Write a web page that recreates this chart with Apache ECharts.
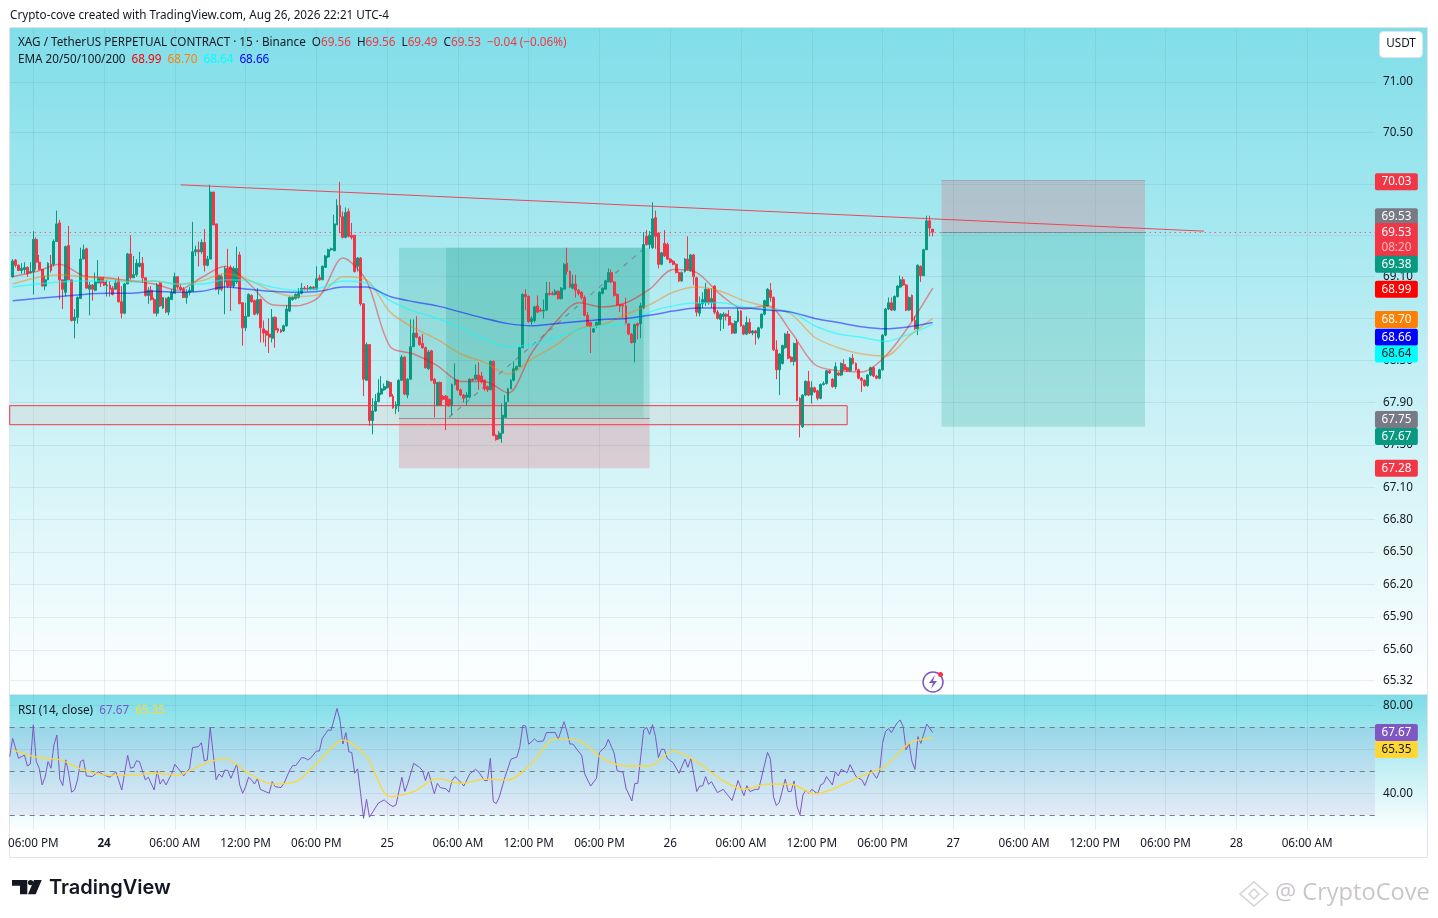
<!DOCTYPE html>
<html><head><meta charset="utf-8"><style>html,body{margin:0;padding:0;background:#fff}#c{width:1438px;height:918px}</style>
<script src="https://cdn.jsdelivr.net/npm/echarts@6/dist/echarts.min.js"></script></head><body><div id="c"></div>
<script>
const FONT='"Noto Sans"';
const FS=11.7;
const tickLabels=["06:00 PM","24","06:00 AM","12:00 PM","06:00 PM","25","06:00 AM","12:00 PM","06:00 PM","26","06:00 AM","12:00 PM","06:00 PM","27","06:00 AM","12:00 PM","06:00 PM","28","06:00 AM"];
const priceTicks=[71,70.5,70,69.5,69.1,68.7,68.3,67.9,67.5,67.1,66.8,66.5,66.2,65.9,65.6,65.32];
const rsiTicks=[80,60,40];
const rsiDashed=[70,50,30];
// [open, close, low, high], one row per 15-minute bar
const ohlc=[
[69.10,69.25,69.09,69.27],[69.26,69.21,69.19,69.27],[69.21,69.16,69.16,69.22],[69.16,69.18,69.13,69.23],[69.17,69.19,69.13,69.24],[69.19,69.13,69.10,69.20],[69.14,69.15,69.13,69.24],[69.15,69.46,68.93,69.54],[69.46,69.24,69.17,69.48],[69.24,69.17,69.17,69.31],
[69.17,69.01,69.01,69.17],[69.01,69.07,68.97,69.11],[69.07,69.23,69.07,69.24],[69.22,69.16,69.14,69.31],[69.22,69.44,69.20,69.46],[69.44,69.61,69.44,69.74],[69.62,69.07,68.88,69.65],[69.07,68.98,68.79,69.07],[68.95,69.39,68.91,69.40],[69.40,69.07,69.07,69.59],
[69.07,68.68,68.67,69.07],[68.68,68.71,68.51,68.79],[68.71,68.90,68.65,68.91],[68.89,69.27,68.89,69.38],[69.27,69.36,69.27,69.41],[69.37,68.99,68.99,69.38],[68.98,69.02,68.73,69.05],[69.02,68.98,68.87,69.03],[68.97,69.05,68.96,69.14],[69.04,69.09,69.04,69.26],
[69.09,69.04,69.00,69.10],[69.05,69.02,69.01,69.10],[69.01,69.02,68.91,69.07],[69.02,68.98,68.91,69.06],[68.99,68.93,68.92,69.01],[68.98,69.04,68.98,69.07],[69.06,68.86,68.85,69.10],[68.86,68.75,68.70,69.01],[68.75,69.03,68.74,69.04],[69.03,69.32,69.03,69.33],
[69.32,69.09,69.07,69.50],[69.09,69.12,69.09,69.30],[69.12,69.23,69.10,69.27],[69.20,69.23,69.19,69.34],[69.23,69.09,69.04,69.29],[69.09,68.92,68.91,69.09],[68.92,68.97,68.84,69.00],[68.97,68.88,68.87,69.01],[68.88,68.75,68.75,68.90],[68.75,69.02,68.72,69.04],
[69.04,68.82,68.81,69.05],[68.80,68.90,68.79,68.90],[68.89,68.76,68.75,68.90],[68.76,68.90,68.73,68.91],[68.88,68.95,68.88,68.98],[68.94,69.10,68.94,69.14],[69.10,69.00,68.98,69.10],[69.00,68.98,68.96,69.03],[68.98,68.90,68.90,69.00],[68.90,68.95,68.84,68.98],
[68.95,68.97,68.92,69.00],[68.96,69.34,68.96,69.63],[69.34,69.36,69.30,69.40],[69.36,69.34,69.20,69.44],[69.34,69.43,69.32,69.46],[69.43,69.21,69.15,69.56],[69.21,69.27,69.20,69.30],[69.27,69.92,69.27,69.99],[69.92,69.60,69.60,69.92],[69.61,68.98,68.97,69.61],
[68.98,69.11,68.93,69.12],[69.10,68.98,68.96,69.12],[69.05,69.18,68.74,69.20],[69.18,69.01,68.99,69.37],[69.19,69.01,68.77,69.21],[69.01,69.18,68.99,69.20],[69.05,69.18,69.03,69.39],[69.31,68.84,68.84,69.34],[68.85,68.61,68.44,68.85],[68.61,68.72,68.58,68.85],
[68.72,68.93,68.72,68.94],[68.92,68.86,68.85,68.93],[68.87,68.74,68.73,68.88],[68.75,68.88,68.73,68.99],[68.88,68.61,68.47,68.89],[68.60,68.56,68.47,68.68],[68.58,68.54,68.43,68.59],[68.55,68.52,68.37,68.70],[68.51,68.71,68.47,68.79],[68.71,68.59,68.42,68.72],
[68.60,68.58,68.56,68.61],[68.59,68.57,68.56,68.60],[68.58,68.63,68.57,68.64],[68.63,68.79,68.62,68.83],[68.77,68.90,68.76,68.91],[68.88,68.90,68.87,68.91],[68.89,68.93,68.88,68.94],[68.90,68.94,68.89,68.99],[68.94,68.99,68.93,69.04],[68.99,68.98,68.97,69.01],
[68.99,68.98,68.96,69.02],[68.98,69.00,68.97,69.01],[69.00,68.98,68.97,69.01],[68.98,69.08,68.97,69.20],[69.09,69.07,69.06,69.12],[69.07,69.20,69.07,69.21],[69.19,69.30,69.19,69.31],[69.29,69.36,69.28,69.37],[69.36,69.37,69.35,69.38],[69.35,69.61,69.35,69.70],
[69.60,69.79,69.60,69.85],[69.79,69.68,69.52,70.02],[69.68,69.48,69.47,69.73],[69.48,69.72,69.47,69.77],[69.73,69.49,69.48,69.76],[69.50,69.48,69.46,69.62],[69.50,69.15,69.14,69.50],[69.20,69.28,69.15,69.29],[69.28,68.84,68.82,69.29],[68.84,68.12,67.96,68.84],
[68.11,68.45,68.11,68.47],[68.45,67.73,67.68,68.45],[67.73,67.82,67.60,67.94],[67.82,67.91,67.81,67.98],[67.91,67.99,67.90,68.12],[67.98,68.03,67.97,68.15],[68.02,68.05,68.01,68.08],[68.04,68.10,68.03,68.11],[68.09,67.96,67.95,68.10],[67.96,67.85,67.84,67.98],
[67.84,67.88,67.79,67.91],[67.87,68.11,67.81,68.12],[68.11,68.33,68.11,68.35],[68.33,67.98,67.97,68.34],[67.97,68.12,67.94,68.13],[68.12,68.43,68.12,68.69],[68.43,68.56,68.43,68.69],[68.56,68.52,68.51,68.72],[68.52,68.45,68.44,68.53],[68.46,68.42,68.41,68.55],
[68.42,68.23,68.22,68.43],[68.22,68.38,68.21,68.40],[68.39,68.11,68.10,68.40],[68.12,68.08,67.76,68.13],[67.87,68.09,67.87,68.09],[68.09,67.87,67.87,68.10],[67.96,67.93,67.92,67.97],[67.96,67.87,67.64,67.97],[67.93,67.87,67.86,67.94],[67.87,68.07,67.78,68.08],
[68.07,68.12,68.06,68.27],[68.11,68.02,68.01,68.12],[68.02,67.97,67.96,68.03],[67.97,67.94,67.90,67.98],[67.95,67.97,67.87,68.00],[67.95,68.12,67.94,68.13],[68.12,68.11,68.10,68.13],[68.12,68.16,68.11,68.26],[68.16,68.11,68.02,68.28],[68.15,68.10,68.08,68.19],
[68.11,68.03,68.01,68.12],[68.05,68.02,68.00,68.06],[68.02,68.29,68.02,68.30],[68.29,67.59,67.58,68.30],[67.59,67.55,67.54,67.60],[67.56,67.61,67.55,67.63],[67.61,67.78,67.52,67.89],[67.76,67.90,67.76,67.97],[67.91,68.03,67.91,68.04],[68.03,68.11,68.03,68.12],
[68.11,68.22,68.10,68.29],[68.21,68.24,68.20,68.25],[68.24,68.42,68.24,68.43],[68.42,68.93,68.42,68.94],[68.93,68.91,68.78,68.98],[68.91,68.67,68.66,68.92],[68.67,68.70,68.64,68.72],[68.68,68.81,68.66,68.82],[68.82,68.76,68.75,68.92],[68.78,68.77,68.76,68.80],
[68.77,68.78,68.70,68.88],[68.78,68.94,68.77,69.05],[68.94,68.93,68.92,69.05],[68.94,68.93,68.92,68.96],[68.93,68.96,68.92,68.98],[68.96,68.89,68.88,68.97],[68.89,68.99,68.88,69.00],[68.98,69.22,68.98,69.23],[69.23,69.15,69.12,69.38],[69.15,69.00,68.99,69.16],
[68.99,69.03,68.98,69.12],[69.03,68.97,68.90,69.12],[68.97,68.94,68.92,68.98],[68.95,68.90,68.88,68.96],[68.90,68.73,68.72,68.92],[68.73,68.63,68.62,68.76],[68.66,68.62,68.37,68.67],[68.57,68.60,68.56,68.61],[68.63,68.66,68.61,68.67],[68.64,68.95,68.64,68.96],
[68.94,68.99,68.93,69.00],[68.98,69.06,68.98,69.07],[69.05,69.14,69.05,69.18],[69.14,69.05,69.04,69.17],[69.05,68.92,68.91,69.06],[68.93,68.83,68.82,68.94],[68.83,68.82,68.76,68.84],[68.83,68.82,68.70,68.84],[68.82,68.65,68.64,68.90],[68.65,68.55,68.54,68.66],
[68.55,68.47,68.46,68.56],[68.47,68.64,68.28,68.65],[68.65,68.63,68.50,68.66],[68.65,68.82,68.51,68.85],[68.80,69.41,68.79,69.53],[69.49,69.41,69.40,69.55],[69.41,69.50,69.37,69.54],[69.38,69.66,69.37,69.82],[69.67,69.49,69.37,69.74],[69.52,69.22,69.18,69.53],
[69.22,69.33,69.21,69.34],[69.42,69.30,69.29,69.55],[69.41,69.27,69.26,69.43],[69.27,69.24,69.23,69.28],[69.25,69.22,69.21,69.26],[69.22,69.14,69.13,69.23],[69.14,69.06,69.05,69.15],[69.06,69.14,69.05,69.15],[69.15,69.27,69.14,69.28],[69.27,69.17,69.16,69.49],
[69.16,69.31,69.15,69.32],[69.31,69.10,69.02,69.32],[69.09,68.76,68.72,69.10],[68.75,68.84,68.72,68.91],[68.84,68.88,68.80,68.95],[68.85,68.98,68.82,69.04],[68.98,68.85,68.83,68.99],[68.85,68.89,68.80,68.99],[69.01,68.76,68.74,69.02],[68.76,68.70,68.69,68.78],
[68.69,68.74,68.58,68.75],[68.72,68.74,68.60,68.76],[68.74,68.72,68.68,68.75],[68.72,68.64,68.63,68.78],[68.65,68.56,68.55,68.66],[68.56,68.67,68.55,68.68],[68.67,68.77,68.66,68.80],[68.77,68.63,68.62,68.78],[68.63,68.55,68.54,68.64],[68.55,68.66,68.54,68.72],
[68.66,68.56,68.55,68.70],[68.56,68.58,68.54,68.59],[68.58,68.56,68.45,68.59],[68.52,68.61,68.50,68.62],[68.61,68.74,68.60,68.75],[68.74,68.87,68.73,68.88],[68.82,68.98,68.81,68.99],[68.97,68.90,68.86,69.04],[68.90,68.40,68.39,68.91],[68.40,68.21,68.12,68.49],
[68.21,68.36,67.97,68.37],[68.27,68.44,68.26,68.45],[68.42,68.55,68.41,68.56],[68.55,68.32,68.31,68.58],[68.33,68.29,68.28,68.34],[68.29,68.46,68.25,68.47],[68.47,67.92,67.91,68.50],[67.94,67.69,67.57,67.95],[67.67,67.97,67.66,67.98],[67.97,68.10,67.96,68.11],
[68.10,67.97,67.96,68.20],[67.97,68.04,67.89,68.10],[68.04,68.00,67.99,68.05],[68.01,67.94,67.92,68.02],[67.94,68.07,67.93,68.08],[68.07,68.08,68.06,68.10],[68.08,68.20,68.07,68.21],[68.20,68.18,68.17,68.21],[68.12,68.05,68.04,68.13],[68.05,68.24,68.03,68.28],
[68.18,68.16,68.15,68.19],[68.16,68.27,68.15,68.28],[68.26,68.21,68.20,68.31],[68.23,68.20,68.19,68.24],[68.20,68.32,68.19,68.33],[68.32,68.27,68.26,68.36],[68.27,68.21,68.20,68.28],[68.21,68.13,68.12,68.22],[68.13,68.11,68.00,68.14],[68.11,68.06,68.05,68.12],
[68.06,68.16,68.05,68.17],[68.16,68.23,68.15,68.24],[68.23,68.15,68.14,68.24],[68.15,68.13,68.12,68.16],[68.13,68.21,68.12,68.22],[68.21,68.54,68.20,68.55],[68.54,68.79,68.53,68.80],[68.79,68.85,68.78,68.90],[68.85,68.78,68.77,68.90],[68.78,68.91,68.77,68.92],
[68.91,69.01,68.90,69.02],[69.00,69.07,68.99,69.11],[69.07,69.02,69.01,69.10],[69.02,68.78,68.77,69.03],[68.78,68.90,68.77,68.91],[68.92,68.68,68.67,68.93],[68.68,68.60,68.59,68.72],[68.60,69.21,68.54,69.22],[69.20,69.11,69.05,69.21],[69.11,69.36,69.11,69.37],
[69.36,69.64,69.36,69.69],[69.64,69.57,69.49,69.69],[69.56,69.53,69.49,69.56]
];
// moving averages read every 8 bars
const emaStep=8;
const ema20=[69.10,69.15,69.22,69.11,69.09,69.06,69.03,68.97,69.09,69.20,69.04,68.83,68.82,68.91,69.28,69.06,68.43,68.36,68.25,68.10,68.10,67.99,68.37,68.66,68.85,68.81,68.85,68.98,69.17,69.14,68.93,68.79,68.82,68.57,68.26,68.20,68.19,68.34,68.63,68.99];
const ema50=[69.03,69.09,69.12,69.10,69.08,69.06,69.06,69.03,69.06,69.13,69.07,68.96,68.91,68.93,69.10,69.07,68.76,68.61,68.50,68.36,68.28,68.17,68.31,68.44,68.60,68.64,68.74,68.83,68.95,69.00,68.96,68.87,68.81,68.74,68.52,68.42,68.36,68.34,68.53,68.70];
const ema100=[69.00,69.03,69.05,69.06,69.06,69.05,69.06,69.03,69.03,69.07,69.06,69.00,68.97,68.99,69.06,69.04,68.87,68.77,68.70,68.61,68.50,68.43,68.45,68.52,68.59,68.63,68.65,68.76,68.82,68.85,68.85,68.81,68.79,68.76,68.63,68.55,68.52,68.48,68.55,68.64];
const ema200=[68.87,68.89,68.91,68.93,68.94,68.94,68.96,68.95,68.96,69.00,68.98,68.96,68.95,68.96,69.00,69.00,68.91,68.86,68.82,68.76,68.70,68.65,68.63,68.65,68.67,68.69,68.70,68.73,68.77,68.80,68.80,68.80,68.78,68.76,68.70,68.66,68.62,68.60,68.62,68.66];
// RSI turning points: slot and value
const rsiSlots=[0,1,3,5,6,7,8,9,10,11,12,13,14,15,16,17,18,19,20,21,22,23,24,25,26,28,30,32,34,36,38,40,41,42,43,44,46,47,49,50,51,52,53,55,56,58,59,61,62,64,65,66,67,68,69,70,71,72,73,74,75,77,78,79,80,81,82,83,84,85,88,89,90,92,93,95,96,97,99,100,101,102,104,105,106,108,109,111,112,113,114,115,116,117,118,119,120,121,122,125,127,129,130,131,133,134,135,137,139,140,141,142,144,145,146,148,149,150,151,153,154,156,158,159,161,162,163,164,165,166,168,170,172,173,174,175,176,178,179,181,182,185,186,188,189,190,191,194,195,197,199,200,202,203,205,206,208,209,211,212,213,215,216,217,218,219,220,221,222,223,225,227,229,230,231,233,234,235,236,237,238,240,242,243,245,247,249,250,251,253,254,257,258,259,260,261,263,264,265,266,267,268,269,270,271,272,274,275,276,277,279,280,281,282,284,285,287,289,290,292,294,295,296,297,298,299,301,302,303,304,305,306,307,308,309,311,313];
const rsiVals=[56.7,65.0,55.9,57.4,52.4,53.3,71.1,54.4,51.4,43.8,47.3,54.4,51.4,62.0,66.5,46.4,43.5,55.2,49.1,40.5,41.5,46.1,54.4,55.2,47.9,47.6,49.8,48.3,47.3,49.8,41.5,57.3,51.4,51.8,54.8,54.4,46.1,47.3,41.5,50.2,44.2,46.4,43.8,49.1,53.2,49.8,47.9,51.4,60.8,61.2,63.0,54.7,55.2,70.0,58.2,46.1,48.8,47.3,50.6,50.3,46.8,53.3,43.8,40.0,43.0,47.3,46.1,44.2,46.7,41.8,40.0,45.3,43.0,42.6,44.5,50.6,52.6,52.6,56.2,56.1,55.2,55.9,59.2,59.2,65.0,68.8,68.6,78.6,73.3,62.4,67.6,58.9,58.5,49.1,51.1,40.0,28.6,37.3,29.1,35.5,37.0,34.7,34.0,34.7,47.3,40.8,44.5,53.6,51.8,50.3,45.8,49.8,39.7,44.5,42.6,42.0,40.5,45.8,47.6,45.0,43.3,48.8,50.9,49.8,45.8,45.8,55.9,36.2,35.3,38.2,47.6,55.5,56.5,61.2,70.8,70.6,62.3,64.7,63.5,63.8,67.6,67.7,64.5,72.6,68.0,62.4,62.4,57.1,48.8,43.3,46.8,58.6,61.2,64.5,58.2,50.2,49.6,42.3,36.5,44.5,44.5,68.8,70.0,66.8,71.2,65.8,56.2,60.0,60.0,55.9,53.9,49.1,55.5,51.8,55.9,40.8,43.3,43.3,47.6,44.1,45.3,40.3,41.8,40.0,36.7,45.8,38.9,43.5,40.8,41.8,41.8,58.6,55.5,38.5,34.4,35.9,46.4,40.8,40.8,45.6,33.9,30.3,39.2,41.5,40.0,41.8,39.7,43.8,44.5,47.6,43.8,49.8,47.9,50.9,49.4,53.0,47.6,46.1,43.5,50.6,46.8,49.8,62.7,68.0,69.5,67.6,72.1,73.3,70.3,59.7,62.7,54.4,50.9,65.8,62.7,71.5,67.67];
const rsiMA=[59.7,56.4,55.2,50.6,48.3,48.3,49.1,48.3,52.9,55.9,49.1,44.2,45.3,54.8,64.2,56.7,38.5,40.8,46.8,44.5,46.4,46.1,53.6,64.7,64.0,55.9,52.4,52.4,59.2,54.4,46.4,41.8,44.2,44.1,39.7,43.0,47.9,52.4,62.7,65.35];
// price-axis tags: text, position on the price scale, colours
const tagText=["70.03","69.53","{a|69.53}\n{b|08:20}","69.38","68.99","68.70","68.66","68.64","67.75","67.67","67.28"];
const tagAt=[70.02,69.68,69.45,69.22,68.98,68.69,68.52,68.36,67.74,67.58,67.28];
const tagBg=["#F23645","#787B86","#F23645","#089981","#FF0000","#FF7F00","#0000FF","#00FFFF","#787B86","#089981","#F23645"];
const tagFg=["#fff","#fff","#fff","#fff","#fff","#fff","#fff","#131722","#fff","#fff","#fff"];
const rsiTagText=["67.67","65.35"];
const rsiTagAt=[67.64,59.9];
const rsiTagBg=["#7E57C2","#FDD835"];
const rsiTagFg=["#fff","#131722"];
const SLOTS=464, FIRST_TICK=8, TICK_STEP=24;
// The price pane is a log scale: prices are placed on a value axis through their logarithm.
const L=p=>Math.log(p);

const categories=new Array(SLOTS).fill('');
tickLabels.forEach((t,k)=>{categories[FIRST_TICK+k*TICK_STEP]=t;});
const isTick=i=>(i-FIRST_TICK)%TICK_STEP===0 && i>=FIRST_TICK && i<=FIRST_TICK+(tickLabels.length-1)*TICK_STEP;
const GL='rgba(95,125,150,0.13)';
const G1={left:9.71,width:1365.25,top:29,height:667};
const G2={left:9.71,width:1365.25,top:695,height:135};
const txt={fontFamily:FONT,fontSize:FS,color:'#131722'};
const emaSeries=(name,arr,color,op)=>({name,type:'line',data:arr.map((v,k)=>[1+k*emaStep,L(v)]),showSymbol:false,smooth:0.3,z:4,silent:true,lineStyle:{color,width:1.5,opacity:op},xAxisIndex:0,yAxisIndex:0});
const hSeg=(a,b,p,color)=>[{coord:[a,L(p)],lineStyle:{color,width:1,type:'solid',opacity:.75},label:{show:false}},{coord:[b,L(p)]}];
const box=(a,b,p1,p2,style)=>[{coord:[a,L(p1)],itemStyle:style},{coord:[b,L(p2)]}];
const tagLabel=(t,bg,fg,two)=>({show:true,position:'end',distance:0,formatter:t,align:'left',verticalAlign:'middle',padding:[2.5,6.5,2.5,6.5],lineHeight:two?15:12,borderRadius:2,fontFamily:FONT,fontSize:FS,backgroundColor:bg,color:fg,
  rich:{a:{fontFamily:FONT,fontSize:FS,color:'#fff',lineHeight:15},b:{fontFamily:FONT,fontSize:FS,color:'rgba(255,255,255,.65)',lineHeight:15}}});

const option={
 animation:false,
 textStyle:{fontFamily:FONT},
 title:[
  {left:10,top:8,padding:0,text:'Crypto-cove created with TradingView.com, Aug 26, 2026 22:21 UTC-4',textStyle:{...txt,fontWeight:'normal',lineHeight:16}},
  {left:18,top:37,padding:0,text:'{k|XAG / TetherUS PERPETUAL CONTRACT · 15 · Binance}  {k|O}{r|69.56}  {k|H}{r|69.56}  {k|L}{r|69.49}  {k|C}{r|69.53}  {r|−0.04 (−0.06%)}',
   textStyle:{...txt,fontWeight:'normal',rich:{k:{...txt},r:{...txt,color:'#F23645'}}}},
  {left:18,top:54,padding:0,text:'{k|EMA 20/50/100/200}  {a|68.99}  {b|68.70}  {c|68.64}  {d|68.66}',
   textStyle:{...txt,fontWeight:'normal',rich:{k:{...txt},a:{...txt,color:'#FF0000'},b:{...txt,color:'#FF7F00'},c:{...txt,color:'#00FFFF'},d:{...txt,color:'#0000FF'}}}},
  {left:18,top:705,padding:0,text:'{k|RSI (14, close)}  {a|67.67}  {b|65.35}',
   textStyle:{...txt,fontWeight:'normal',rich:{k:{...txt},a:{...txt,color:'#7E57C2'},b:{...txt,color:'#FDD835'}}}}
 ],
 grid:[{...G1},{...G2}],
 xAxis:[
  {type:'category',gridIndex:0,data:categories,boundaryGap:false,axisLine:{show:false},axisTick:{show:false},axisLabel:{show:false},splitLine:{show:true,interval:isTick,lineStyle:{color:GL,width:1}}},
  {type:'category',gridIndex:1,data:categories,boundaryGap:false,axisLine:{show:false},axisTick:{show:false},
   axisLabel:{show:true,interval:isTick,margin:8,hideOverlap:false,fontFamily:FONT,fontSize:FS,color:'#131722',formatter:v=>v==='24'?'{b|24}':v,rich:{b:{fontFamily:FONT,fontSize:FS,fontWeight:'bold',color:'#131722'}}},
   splitLine:{show:true,interval:isTick,lineStyle:{color:GL,width:1}}}
 ],
 yAxis:[
  {type:'value',gridIndex:0,position:'right',min:L(65.18),max:L(71.526),axisLine:{show:false},axisTick:{show:false},axisLabel:{show:false},splitLine:{show:false}},
  {type:'value',gridIndex:1,position:'right',min:23.3,max:84.7,axisLine:{show:false},axisTick:{show:false},axisLabel:{show:false},splitLine:{show:false}}
 ],
 series:[
  {name:'XAG',type:'candlestick',xAxisIndex:0,yAxisIndex:0,silent:true,barWidth:2.4,z:3,
   data:[['-','-','-','-']].concat(ohlc.map(r=>r.map(L))),
   itemStyle:{color:'#089981',color0:'#F23645',borderColor:'#089981',borderColor0:'#F23645',borderWidth:1},
   markArea:{silent:true,z:1,label:{show:false},data:[
    box(132,217,69.38,67.75,{color:'rgba(8,153,129,0.2)'}),
    box(132,217,67.75,67.28,{color:'rgba(242,54,69,0.2)'}),
    box(148,215,69.38,67.75,{color:'rgba(8,153,129,0.2)'}),
    box(316,385,70.03,69.53,{color:'rgba(242,54,69,0.2)'}),
    box(316,385,69.53,67.67,{color:'rgba(8,153,129,0.2)'}),
    box(0,284,67.87,67.69,{color:'rgba(225,205,195,0.3)',borderColor:'#F23645',borderWidth:1})
   ]}
  },
  emaSeries('EMA 20',ema20,'#FF0000',.42),
  emaSeries('EMA 50',ema50,'#FF7F00',.45),
  emaSeries('EMA 100',ema100,'#00FFFF',.55),
  {...emaSeries('EMA 200',ema200,'#0000FF',.5),
   markLine:{silent:true,z:10,precision:10,symbol:'none',animation:false,lineStyle:{color:'transparent',opacity:1,width:0},
    data:tagText.map((t,k)=>({yAxis:L(tagAt[k]),label:tagLabel(t,tagBg[k],tagFg[k],k===2)}))}
  },
  {name:'Trend',type:'line',xAxisIndex:0,yAxisIndex:0,showSymbol:false,silent:true,z:5,
   data:[[58,L(69.99)],[405,L(69.54)]],lineStyle:{color:'#F23645',width:1,opacity:.9},
   markLine:{silent:true,z:1,precision:10,symbol:'none',animation:false,
    data:priceTicks.map(p=>({yAxis:L(p),lineStyle:{color:GL,width:1,type:'solid'},label:{show:true,position:'end',distance:8,formatter:p.toFixed(2),fontFamily:FONT,fontSize:FS,color:'#131722'}}))
     .concat([{yAxis:L(69.53),lineStyle:{color:'#F23645',width:1,type:[1,4]},label:{show:false}}])
     .concat([hSeg(132,217,67.75,'#787B86'),hSeg(316,385,69.53,'#787B86'),hSeg(316,385,70.03,'#9a9aa5')])}
  },
  {name:'Target path',type:'line',xAxisIndex:0,yAxisIndex:0,showSymbol:false,silent:true,z:2,
   data:[[149,L(67.76)],[215,L(69.37)]],lineStyle:{color:'#787B86',width:1.2,type:[5,6],opacity:.8}},
  {name:'RSI',type:'line',xAxisIndex:1,yAxisIndex:1,showSymbol:false,silent:true,z:3,
   data:rsiSlots.map((s,k)=>[s,rsiVals[k]]),lineStyle:{color:'#7E57C2',width:1},
   markArea:{silent:true,z:1,label:{show:false},data:[[{coord:[0,70],itemStyle:{color:'rgba(126,87,194,0.1)'}},{coord:[SLOTS-1,30]}]]},
   markLine:{silent:true,z:1,symbol:'none',animation:false,
    data:rsiDashed.map(v=>({yAxis:v,lineStyle:{color:'#787B86',width:1,type:[5,5]},label:{show:false}}))
     .concat(rsiTicks.map(v=>({yAxis:v,lineStyle:{color:GL,width:1,type:'solid'},label:{show:true,position:'end',distance:8,formatter:v.toFixed(2),fontFamily:FONT,fontSize:FS,color:'#131722'}})))}
  },
  {name:'RSI MA',type:'line',xAxisIndex:1,yAxisIndex:1,showSymbol:false,silent:true,smooth:0.3,z:4,
   data:rsiMA.map((v,k)=>[1+k*emaStep,v]),lineStyle:{color:'#FDD835',width:1.3},
   markLine:{silent:true,z:10,symbol:'none',animation:false,lineStyle:{color:'transparent',opacity:1,width:0},
    data:rsiTagText.map((t,k)=>({yAxis:rsiTagAt[k],label:tagLabel(t,rsiTagBg[k],rsiTagFg[k],false)}))}
  }
 ],
 graphic:[
  {type:'rect',silent:true,z:-5,shape:{x:10,y:28,width:1417,height:666},style:{fill:new echarts.graphic.LinearGradient(0,0,0,1,[{offset:0,color:'#80DEE9'},{offset:1,color:'#FFFFFF'}])}},
  {type:'rect',silent:true,z:-5,shape:{x:10,y:695,width:1417,height:137},style:{fill:new echarts.graphic.LinearGradient(0,0,0,1,[{offset:0,color:'#7CDDE8'},{offset:1,color:'#FFFFFF'}])}},
  {type:'rect',silent:true,z:-4,shape:{x:9.5,y:27.5,width:1418,height:830},style:{fill:'none',stroke:'#E0E3EB',lineWidth:1}},
  {type:'line',silent:true,z:-4,shape:{x1:10,y1:694.5,x2:1427,y2:694.5},style:{stroke:'#E0E3EB',lineWidth:1}},
  {type:'rect',silent:true,z:20,shape:{x:1379.5,y:31.5,width:43,height:26,r:4},style:{fill:'#fff',stroke:'#E0E3EB',lineWidth:1}},
  {type:'text',silent:true,z:21,x:1401,y:44,style:{text:'USDT',fill:'#131722',font:FS+'px '+FONT,textAlign:'center',textVerticalAlign:'middle'}},
  {type:'circle',silent:true,z:20,shape:{cx:933,cy:682,r:10},style:{fill:'#fff',stroke:'#7E57C2',lineWidth:1.5}},
  {type:'polygon',silent:true,z:21,shape:{points:[[935,675],[929,683],[933,683],[931,689],[937,681],[933,681]]},style:{fill:'#7E57C2'}},
  {type:'circle',silent:true,z:22,shape:{cx:940.5,cy:674.5,r:2.5},style:{fill:'#F23645'}},
  {type:'polygon',silent:true,shape:{points:[[12,880],[27.3,880],[27.3,894.3],[20,894.3],[20,885.7],[12,885.7]]},style:{fill:'#131722'}},
  {type:'circle',silent:true,shape:{cx:30.6,cy:882.6,r:2.7},style:{fill:'#131722'}},
  {type:'polygon',silent:true,shape:{points:[[34,880],[41.7,880],[35.7,894.3],[28,894.3]]},style:{fill:'#131722'}},
  {type:'text',silent:true,x:49,y:888,style:{text:'TradingView',fill:'#131722',font:'600 20px Inter',textVerticalAlign:'middle'}},
  {type:'polygon',silent:true,shape:{points:[[1254,882],[1268,894],[1254,906],[1240,894]]},style:{fill:'none',stroke:'rgba(150,140,150,.4)',lineWidth:1.5}},
  {type:'polygon',silent:true,shape:{points:[[1254,889],[1259,894],[1254,899],[1249,894]]},style:{fill:'none',stroke:'rgba(150,140,150,.4)',lineWidth:1.5}},
  {type:'text',silent:true,x:1275,y:893,style:{text:'@ CryptoCove',fill:'rgba(150,140,150,.5)',font:'23.6px "Open Sans"',textVerticalAlign:'middle'}}
 ]
};
const chart=echarts.init(document.getElementById('c'),null,{renderer:'canvas',width:1438,height:918});
chart.setOption(option);
</script></body></html>
